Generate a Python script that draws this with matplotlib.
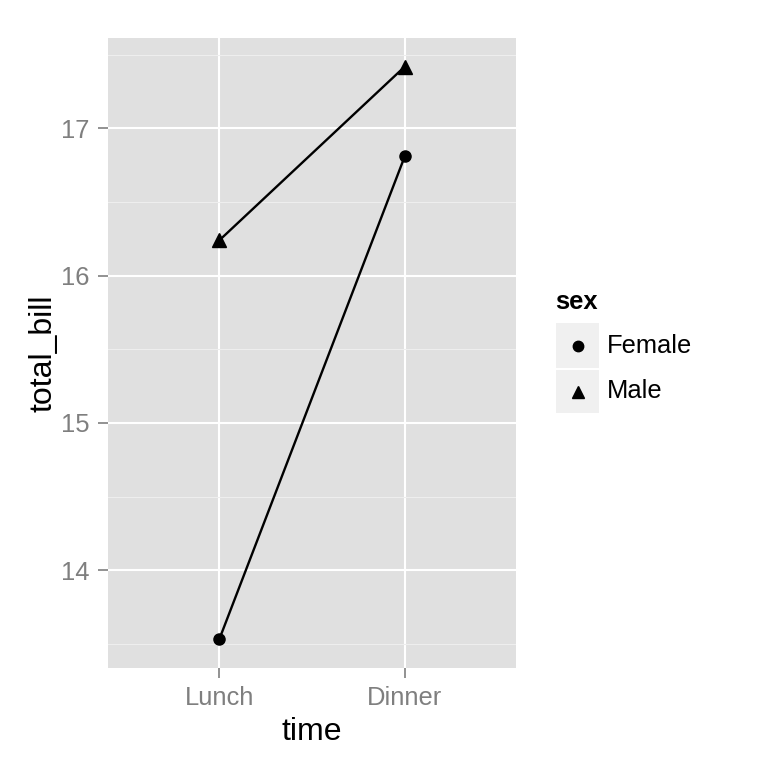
import matplotlib.pyplot as plt
from matplotlib.patches import Rectangle
from matplotlib.lines import Line2D

plt.rcParams['font.family'] = ['Liberation Sans', 'DejaVu Sans']

times = ['Lunch', 'Dinner']
sexes = ['Female', 'Male']
markers = ['o', '^']
total_bill = {
    'Female': [13.53, 16.81],
    'Male': [16.24, 17.42],
}

W = H = 768
fig = plt.figure(figsize=(7.68, 7.68), dpi=100)
ax = fig.add_axes([108 / W, 1 - 668 / H, (516 - 108) / W, (668 - 38) / H])
ax.set_facecolor('#E0E0E0')

x = [0, 1]
for sex, mk in zip(sexes, markers):
    ms = 8 if mk == 'o' else 9.5
    ax.plot(x, total_bill[sex], color='black', lw=1.7, marker=mk, ms=ms, zorder=3)

ymin = min(min(v) for v in total_bill.values())
ymax = max(max(v) for v in total_bill.values())
pad = (ymax - ymin) * 0.05
ax.set_ylim(ymin - pad, ymax + pad)
ax.set_xlim(-0.6, 1.6)

ax.set_xticks(x)
ax.set_xticklabels(times)
ax.set_yticks([14, 15, 16, 17])
ax.set_yticks([13.5, 14.5, 15.5, 16.5, 17.5], minor=True)
ax.grid(True, which='major', color='white', lw=1.5)
ax.grid(True, which='minor', axis='y', color='#EEEEEE', lw=0.8)
ax.set_axisbelow(True)
for s in ax.spines.values():
    s.set_visible(False)
ax.tick_params(which='major', length=7.2, width=1.2, color='#7F7F7F',
               labelcolor='#7F7F7F', labelsize=18.4)
ax.tick_params(axis='y', pad=6)
ax.tick_params(axis='x', pad=6)
ax.tick_params(which='minor', length=0)

ax.set_xlabel('time', fontsize=23, labelpad=5)
ax.set_ylabel('total_bill', fontsize=23, labelpad=2)

# legend
fig.text(555 / W, 1 - 302 / H, 'sex', fontsize=18.4, fontweight='bold',
         ha='left', va='center')
keys = [(323, 368), (370, 413)]
for (top, bot), sex, mk in zip(keys, sexes, markers):
    fig.patches.append(Rectangle((556 / W, 1 - bot / H), 43 / W, (bot - top) / H,
                                 transform=fig.transFigure, facecolor='#F0F0F0',
                                 edgecolor='none'))
    cy = 1 - (top + bot) / 2 / H
    ms = 7.5 if mk == 'o' else 9
    fig.lines.append(Line2D([577.5 / W], [cy], marker=mk, ms=ms, color='black',
                            transform=fig.transFigure))
    fig.text(607 / W, cy, sex, fontsize=18.4, ha='left', va='center')

fig.savefig('out.png', dpi=100)
